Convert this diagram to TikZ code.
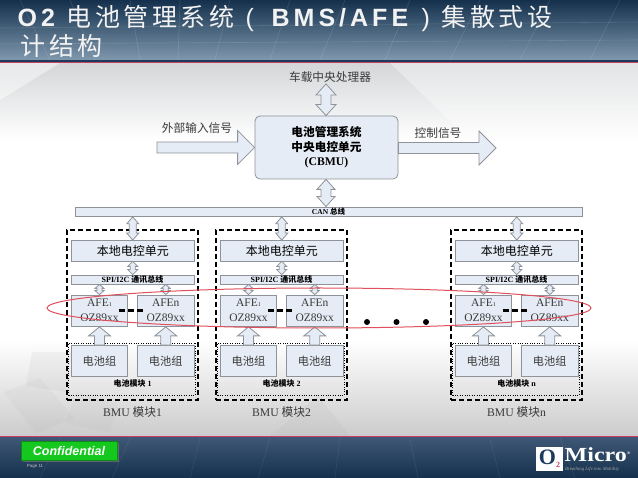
\documentclass[tikz,border=0pt]{standalone}
\usepackage{fontspec}
\setmainfont{Liberation Serif}
\newfontfamily\cjk{Noto Sans CJK SC}
\newfontfamily\titlecjk{Noto Sans CJK SC}[LetterSpace=14]
\newfontfamily\titlelat{Liberation Sans}[LetterSpace=16]
\newfontfamily\sansf{Liberation Sans}
\usetikzlibrary{calc,shadows}
\definecolor{boxfill}{HTML}{E6ECF5}
\definecolor{boxline}{HTML}{8E939A}
\definecolor{labelgray}{HTML}{3A3A3A}
\definecolor{bandtop}{HTML}{14304C}
\definecolor{bandlow}{HTML}{7F98AE}
\definecolor{navy}{HTML}{1C3A5E}
\definecolor{pinkline}{HTML}{C8405F}
\definecolor{ovalred}{HTML}{E0505C}
\definecolor{botgray}{HTML}{CCCCCC}
\definecolor{topgray}{HTML}{D4D6D8}
\definecolor{confgreen}{HTML}{14C81E}
\tikzset{
  boxn/.style={draw=boxline,fill=boxfill,line width=.8pt,inner sep=0pt,rectangle,text=labelgray},
  lab/.style={inner sep=0pt,text=labelgray},
  blockarrow/.style={draw=boxline,fill=boxfill,line width=.8pt,line join=miter},
  bmubox/.style={draw=black,line width=1.5pt,dash pattern=on 5pt off 3pt},
  batbox/.style={draw=black,line width=.9pt,dash pattern=on 1pt off 1.4pt},
  linkdash/.style={draw=black,line width=3.4pt,dash pattern=on 6pt off 3pt},
}
% title piece placed at a given offset from the left end of the line
\newcommand{\tp}[2]{\makebox[0pt][l]{\hspace{#1pt}#2}}
% vertical two-headed block arrow: top, bottom, half head, half shaft, head length
\newcommand{\vdouble}[5]{%
  \path[blockarrow] let \p1=(#1),\p2=(#2) in
    (\x1,\y1) -- (\x1+#3pt,\y1-#5pt) -- (\x1+#4pt,\y1-#5pt) -- (\x1+#4pt,\y2+#5pt)
    -- (\x1+#3pt,\y2+#5pt) -- (\x1,\y2) -- (\x1-#3pt,\y2+#5pt) -- (\x1-#4pt,\y2+#5pt)
    -- (\x1-#4pt,\y1-#5pt) -- (\x1-#3pt,\y1-#5pt) -- cycle;}
% vertical block arrow pointing up: tip, foot
\newcommand{\vup}[5]{%
  \path[blockarrow] let \p1=(#1),\p2=(#2) in
    (\x1,\y1) -- (\x1+#3pt,\y1-#5pt) -- (\x1+#4pt,\y1-#5pt) -- (\x1+#4pt,\y2)
    -- (\x1-#4pt,\y2) -- (\x1-#4pt,\y1-#5pt) -- (\x1-#3pt,\y1-#5pt) -- cycle;}
% horizontal block arrow pointing right: foot, tip
\newcommand{\hright}[5]{%
  \path[blockarrow] let \p1=(#1),\p2=(#2) in
    (\x1,\y2+#4pt) -- (\x2-#5pt,\y2+#4pt) -- (\x2-#5pt,\y2+#3pt) -- (\x2,\y2)
    -- (\x2-#5pt,\y2-#3pt) -- (\x2-#5pt,\y2-#4pt) -- (\x1,\y2-#4pt) -- cycle;}
\begin{document}
\begin{tikzpicture}[x=1pt,y=-1pt]
\useasboundingbox (0,0) rectangle (638,478);
% background
\fill[white] (0,0) rectangle (638,478);
\shade[top color=topgray,bottom color=white] (0,63) rectangle (638,140);
\fill[white,opacity=.45] (0,63) -- (60,63) -- (0,100) -- cycle;
\fill[white,opacity=.35] (390,63) -- (638,63) -- (638,140) -- (470,140) -- cycle;
\shade[top color=white,bottom color=botgray] (0,340) rectangle (638,436);
% faint chips on the lower left
\fill[gray,opacity=.07] (32,352) -- (72,352) -- (66,392) -- (26,386) -- cycle;
\fill[gray,opacity=.05] (4,392) -- (40,378) -- (74,418) -- (36,434) -- cycle;
\fill[gray,opacity=.04] (76,392) -- (118,404) -- (110,432) -- (66,424) -- cycle;
\fill[gray,opacity=.06] (270,436) -- (318,396) -- (350,436) -- cycle;
% title band
\shade[top color=bandtop,bottom color=bandlow] (0,0) rectangle (638,60);
\foreach \xa/\xb in {20/50,70/95,130/140,180/178,230/215,290/270,345/320,410/385,480/450,550/520,620/590}
  \draw[white,opacity=.13,line width=.6pt] (\xa,0) -- (\xb,60);
\draw[white,opacity=.12,line width=.6pt] (0,28) -- (638,22);
\draw[white,opacity=.12,line width=.6pt] (0,44) -- (638,40);
\fill[navy] (0,60) rectangle (638,62);
\fill[pinkline] (0,62) rectangle (638,63.5);
% footer band
\shade[top color=navy!85!white,bottom color=bandtop] (0,437.5) rectangle (638,478);
\foreach \xa/\xb in {60/40,130/112,200/190,270/258,340/335,410/418,490/500,560/575}
  \draw[white,opacity=.08,line width=.6pt] (\xa,438) -- (\xb,478);
\fill[pinkline] (0,436) rectangle (638,437.5);
% title
\node[anchor=north west,inner sep=0pt,text=white!95!black,align=left,font=\fontsize{25}{28.5}\selectfont] (title) at (17,5.5)
  {\tp{0}{\titlelat\bfseries O2}\tp{49}{\titlecjk 电池管理系统}\tp{228}{\sansf (}\tp{254}{\titlelat\bfseries BMS/AFE}\tp{404}{\sansf )}\tp{424}{\titlecjk 集散式设}\\\tp{3}{\titlecjk 计结构}};
% central unit
\node[boxn,rounded corners=5pt,minimum width=143pt,minimum height=63pt,text=black,align=center,
  font=\fontsize{11.7}{14.5}\selectfont\bfseries] (cbmu) at (326.5,147.5) {{\cjk 电池管理系统}\\{\cjk 中央电控单元}\\(CBMU)};
\node[lab,font=\fontsize{11.7}{14}\selectfont\cjk] (cpu) at (330,77.5) {车载中央处理器};
\node[lab,font=\fontsize{11.7}{14}\selectfont\cjk] (inlab) at (197,128) {外部输入信号};
\node[lab,font=\fontsize{11.7}{14}\selectfont\cjk] (outlab) at (438,133) {控制信号};
\node[boxn,minimum width=507pt,minimum height=9.5pt,text=black,font=\fontsize{7.5}{9}\selectfont\bfseries] (can) at (328.5,211.7) {CAN {\cjk 总线}};
\coordinate (infoot) at (157,148);
\coordinate (outtip) at (496,148);
\coordinate (cputop) at (326,84);
\hright{infoot}{cbmu.west}{17}{5.5}{17}
\hright{cbmu.east}{outtip}{17}{5.5}{17}
\vdouble{cputop}{cbmu.north -| cputop}{10}{5}{11}
\vdouble{cbmu.south -| cputop}{can.north -| cputop}{9}{5}{10}
% modules
\foreach \i/\dx/\nm/\afe in {1/0/1/1,2/149/2/2,n/384/n/n}{
  \begin{scope}[shift={(\dx,0)}]
    \node[bmubox,minimum width=131pt,minimum height=170pt,inner sep=0pt] (bmu\i) at (132.5,315) {};
    \node[batbox,minimum width=127pt,minimum height=52pt,inner sep=0pt] (pack\i) at (132,369) {};
    \node[boxn,minimum width=122.5pt,minimum height=20.5pt,text=black,font=\fontsize{12}{14}\selectfont\cjk] (local\i) at (132.75,250.75) {本地电控单元};
    \node[boxn,minimum width=122.5pt,minimum height=9pt] (spi\i) at (132.75,279.5) {};
    \node[boxn,minimum width=56pt,minimum height=31.5pt,align=center,font=\fontsize{11.5}{15}\selectfont] (afea\i) at (99.5,310.75) {AFE{\fontsize{6}{6}\selectfont 1}\\OZ89xx};
    \node[boxn,minimum width=56.5pt,minimum height=31.5pt,align=center,font=\fontsize{11.5}{15}\selectfont] (afeb\i) at (165.75,310.75) {AFEn\\OZ89xx};
    \node[boxn,minimum width=56pt,minimum height=31pt,font=\fontsize{11.2}{13}\selectfont\cjk] (bata\i) at (99.5,361) {电池组};
    \node[boxn,minimum width=56.5pt,minimum height=31pt,font=\fontsize{11.2}{13}\selectfont\cjk] (batb\i) at (165.75,361) {电池组};
    \node[lab,text=black,font=\fontsize{8}{10}\selectfont\bfseries] (spilab\i) at (132.5,279.5) {SPI/I2C {\cjk 通讯总线}};
    \node[lab,text=black,font=\fontsize{8}{10}\selectfont\bfseries] (packlab\i) at (132.5,383.5) {{\cjk 电池模块} \nm};
    \node[lab,font=\fontsize{11.7}{14}\selectfont] (bmulab\i) at (132.5,412) {BMU {\cjk 模块}\nm};
    \vdouble{can.south -| local\i.north}{local\i.north}{6}{3.5}{7}
    \vdouble{local\i.south}{spi\i.north -| local\i.south}{5}{2.5}{5}
    \vdouble{spi\i.south -| afea\i.north}{afea\i.north}{4.5}{2.5}{4}
    \vdouble{spi\i.south -| afeb\i.north}{afeb\i.north}{4.5}{2.5}{4}
    \vup{afea\i.south}{bata\i.north}{11}{5}{9}
    \vup{afeb\i.south}{batb\i.north}{11}{5}{9}
    \draw[linkdash] (afea\i.east |- 0,310.5) ++(-8.5,0) -- ++(24,0);
  \end{scope}
}
% continuation dots
\foreach \dotx/\dname in {367/da,396.5/db,426/dc}
  \fill[black] (\dotx,322) circle (3pt);
% the red oval
\draw[ovalred,line width=1pt] (319,308) ellipse [x radius=272,y radius=20];
% footer items
\node[fill=confgreen,draw=confgreen!70!black,line width=.5pt,minimum width=96pt,minimum height=19pt,inner sep=0pt,
  text=white,font=\sansf\fontsize{12.5}{14}\selectfont\bfseries\itshape,drop shadow={shadow xshift=1.5pt,shadow yshift=-1.5pt,opacity=.6}] (conf) at (69,451) {Confidential};
\node[inner sep=0pt,text=white!75!black,font=\sansf\fontsize{4.5}{5}\selectfont] (page) at (35,466) {Page 11};
\node[fill=white,minimum width=27pt,minimum height=24pt,inner sep=0pt,text=navy,font=\bfseries\fontsize{22}{22}\selectfont] (logo) at (549.5,459)
  {O\raisebox{-3pt}{\textcolor{pinkline}{\fontsize{8}{8}\selectfont 2}}};
\node[anchor=base west,inner sep=0pt,text=white,font=\bfseries\fontsize{20}{20}\selectfont,xscale=1.2,transform shape] (micro) at (564.5,462) {Micro\raisebox{7pt}{\fontsize{4}{4}\selectfont ®}};
\node[anchor=west,inner sep=0pt,text=white!65!black,font=\itshape\fontsize{4.8}{5}\selectfont] (tag) at (565,469.5) {Breathing Life into Mobility};
\end{tikzpicture}
\end{document}
